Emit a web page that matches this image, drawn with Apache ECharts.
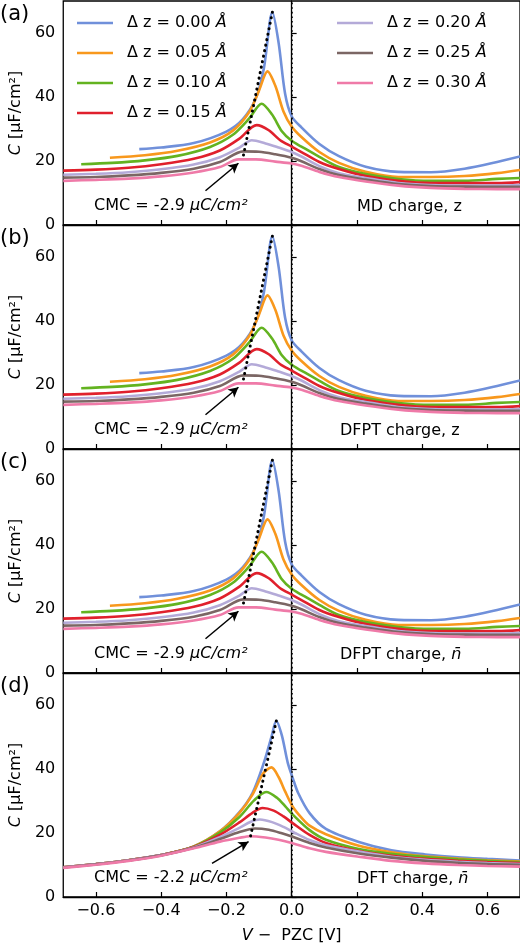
<!DOCTYPE html>
<html>
<head>
<meta charset="utf-8">
<script src="https://cdn.jsdelivr.net/npm/echarts@6/dist/echarts.min.js"></script>
<style>
  html, body { margin: 0; padding: 0; background: #fff; }
  #chart { width: 520px; height: 945px; }
</style>
</head>
<body>
<div id="chart"></div>
<script>
// axis ticks
const vTicks = [-0.6, -0.4, -0.2, 0, 0.2, 0.4, 0.6];
const cTicks = [0, 20, 40, 60];

// legend entries (Δz values)
const dzValues = ['0.00', '0.05', '0.10', '0.15', '0.20', '0.25', '0.30'];

// panels (a)-(c): [V - PZC, C]
const a00 = [[-0.467, 23.7], [-0.4, 24.2], [-0.3, 25.6], [-0.2, 29.2], [-0.15, 33], [-0.11, 39.5], [-0.085, 49], [-0.059, 66.5], [-0.04, 57], [-0.02, 41], [0, 34], [0.03, 30.5], [0.085, 25.3], [0.145, 21.5], [0.227, 18.2], [0.327, 16.6], [0.427, 16.5], [0.53, 17.6], [0.63, 19.7], [0.7, 21.4]];
const a05 = [[-0.557, 21], [-0.45, 21.8], [-0.35, 23.2], [-0.25, 25.8], [-0.18, 29.5], [-0.13, 35.3], [-0.1, 42], [-0.074, 48], [-0.05, 43.5], [-0.025, 35.5], [0, 30.8], [0.03, 27.5], [0.085, 22.8], [0.145, 19.4], [0.227, 16.6], [0.327, 15], [0.427, 15], [0.53, 15.3], [0.63, 16.2], [0.7, 17.2]];
const a10 = [[-0.645, 19], [-0.55, 19.4], [-0.45, 20.2], [-0.35, 21.6], [-0.25, 24.4], [-0.18, 28.2], [-0.13, 33.3], [-0.092, 37.9], [-0.06, 34.5], [-0.03, 29.3], [0, 26.3], [0.03, 24.5], [0.085, 21.3], [0.145, 18.1], [0.227, 15.9], [0.327, 14.4], [0.427, 13.8], [0.53, 13.8], [0.63, 14.4], [0.7, 14.7]];
const a15 = [[-0.7, 17], [-0.6, 17.3], [-0.5, 17.9], [-0.4, 19], [-0.3, 20.7], [-0.22, 23.3], [-0.16, 27], [-0.107, 31.2], [-0.07, 29.6], [-0.035, 26.5], [0, 24.5], [0.03, 22.8], [0.085, 19.7], [0.145, 17.5], [0.227, 15.3], [0.327, 13.8], [0.427, 13.1], [0.53, 13.1], [0.63, 13.1], [0.7, 13.4]];
const a20 = [[-0.7, 15.7], [-0.6, 16], [-0.5, 16.5], [-0.4, 17.4], [-0.3, 18.9], [-0.22, 21.2], [-0.16, 24.2], [-0.122, 26.5], [-0.08, 25.5], [-0.04, 24.2], [0, 22.8], [0.03, 21.4], [0.085, 18.4], [0.145, 16.2], [0.227, 14.7], [0.327, 13.1], [0.427, 12.5], [0.53, 12.3], [0.63, 12.3], [0.7, 12.5]];
const a25 = [[-0.7, 14.8], [-0.6, 15], [-0.5, 15.5], [-0.4, 16.3], [-0.3, 17.6], [-0.22, 19.7], [-0.148, 23], [-0.1, 22.9], [-0.05, 22.1], [0, 21], [0.03, 19.9], [0.085, 17.5], [0.145, 15.6], [0.227, 14.2], [0.327, 12.8], [0.427, 12.2], [0.53, 12], [0.63, 11.9], [0.7, 11.9]];
const a30 = [[-0.7, 13.8], [-0.6, 14.1], [-0.5, 14.5], [-0.4, 15.2], [-0.3, 16.4], [-0.22, 18.1], [-0.163, 20.5], [-0.11, 20.5], [-0.05, 19.8], [0, 19.2], [0.03, 18.5], [0.085, 16.6], [0.145, 15], [0.227, 13.6], [0.327, 12.3], [0.427, 11.6], [0.53, 11.3], [0.63, 11.2], [0.7, 11.2]];

// panel (d)
const d00 = [[-0.7, 9.3], [-0.6, 10.3], [-0.5, 11.5], [-0.4, 13.1], [-0.3, 15.8], [-0.22, 20.5], [-0.16, 26.5], [-0.12, 32.5], [-0.085, 42], [-0.062, 50], [-0.047, 55], [-0.03, 50.5], [-0.012, 42], [0.004, 37], [0.02, 32.5], [0.055, 26.2], [0.105, 21.3], [0.206, 17.2], [0.306, 14.6], [0.41, 13.3], [0.51, 12.4], [0.6, 11.9], [0.7, 11.4]];
const d05 = [[-0.7, 9.3], [-0.6, 10.3], [-0.5, 11.5], [-0.4, 13.1], [-0.3, 15.8], [-0.22, 20.5], [-0.16, 26.3], [-0.12, 32], [-0.088, 38.5], [-0.062, 40.5], [-0.04, 37.5], [-0.02, 33], [0.003, 28.3], [0.03, 24.8], [0.055, 22.3], [0.105, 19.6], [0.206, 16], [0.306, 14], [0.41, 12.7], [0.51, 12], [0.6, 11.5], [0.7, 11.1]];
const d10 = [[-0.7, 9.3], [-0.6, 10.3], [-0.5, 11.5], [-0.4, 13.1], [-0.3, 15.7], [-0.22, 20.1], [-0.16, 25], [-0.115, 30.2], [-0.078, 32.8], [-0.045, 31], [-0.02, 28.4], [0.003, 25.8], [0.055, 20.9], [0.105, 17.9], [0.206, 15], [0.306, 13.5], [0.41, 12.5], [0.51, 11.8], [0.6, 11.3], [0.7, 10.9]];
const d15 = [[-0.7, 9.3], [-0.6, 10.3], [-0.5, 11.5], [-0.4, 13.1], [-0.3, 15.6], [-0.22, 19.4], [-0.16, 23.3], [-0.12, 26.3], [-0.089, 27.8], [-0.055, 27], [-0.025, 25.2], [0.003, 23.1], [0.055, 19.4], [0.105, 16.9], [0.206, 14.4], [0.306, 12.9], [0.41, 11.9], [0.51, 11.3], [0.6, 10.9], [0.7, 10.6]];
const d20 = [[-0.7, 9.3], [-0.6, 10.3], [-0.5, 11.5], [-0.4, 13.1], [-0.3, 15.5], [-0.22, 18.7], [-0.16, 21.6], [-0.125, 23.5], [-0.097, 24.2], [-0.06, 23.4], [-0.025, 21.9], [0.003, 20.4], [0.055, 17.8], [0.105, 16.2], [0.206, 14.2], [0.306, 12.6], [0.41, 11.6], [0.51, 11], [0.6, 10.6], [0.7, 10.3]];
const d25 = [[-0.7, 9.2], [-0.6, 10.2], [-0.5, 11.4], [-0.4, 13], [-0.3, 15.4], [-0.22, 18.1], [-0.16, 20.3], [-0.112, 21.4], [-0.07, 21], [-0.03, 19.9], [0.003, 18.8], [0.055, 16.9], [0.105, 15.5], [0.206, 13.6], [0.306, 12.3], [0.41, 11.3], [0.51, 10.7], [0.6, 10.3], [0.7, 10.1]];
const d30 = [[-0.7, 9.1], [-0.6, 10.1], [-0.5, 11.3], [-0.4, 12.9], [-0.3, 15.2], [-0.22, 17.3], [-0.16, 18.5], [-0.127, 19], [-0.08, 18.6], [-0.04, 17.9], [0.003, 16.8], [0.055, 15.2], [0.105, 14.1], [0.206, 12.6], [0.306, 11.3], [0.41, 10.5], [0.51, 10], [0.6, 9.7], [0.7, 9.5]];

// dotted line through the peaks
const peakA = [[-0.059, 66.5], [-0.148, 21.6]];
const peakD = [[-0.047, 55], [-0.126, 19]];

// arrows (tail -> head)
const arrowA = [[-0.264, 10.7], [-0.163, 19.3]];
const arrowD = [[-0.244, 10.5], [-0.132, 17.3]];

const cmcValues = ['-2.9', '-2.9', '-2.9', '-2.2'];
const chargeMethods = ['MD charge, ', 'DFPT charge, ', 'DFPT charge, ', 'DFT charge, '];
const chargeVars = ['z', 'z', 'n\u0304', 'n\u0304'];
const panelTags = ['(a)', '(b)', '(c)', '(d)'];

const panelCurves = [
  [a00, a05, a10, a15, a20, a25, a30],
  [a00, a05, a10, a15, a20, a25, a30],
  [a00, a05, a10, a15, a20, a25, a30],
  [d00, d05, d10, d15, d20, d25, d30]
];
const panelPeaks = [peakA, peakA, peakA, peakD];
const panelArrows = [arrowA, arrowA, arrowA, arrowD];

const colors = ['#7090da', '#f8981d', '#63b320', '#e0202c', '#b4aad8', '#7b6664', '#ef7aa8'];
const FONT = 'DejaVu Sans';
const panelTop = [1, 225, 449, 673];
const panelH = 224;

const seriesName = i => 'Δ z = ' + dzValues[i] + ' Å';

const grids = [], xAxes = [], yAxes = [], series = [], graphics = [];

panelTop.forEach((top, p) => {
  grids.push({
    left: 61, top: top, width: 462, height: panelH,
    show: true, borderColor: '#000', borderWidth: 1.3, backgroundColor: 'transparent'
  });
  const last = p === panelTop.length - 1;
  xAxes.push({
    gridIndex: p, type: 'value', min: -0.7, max: 0.7,
    axisLine: { show: true, onZero: false, lineStyle: { color: '#000', width: 1.3 } },
    axisTick: { show: true, inside: true, length: 5, customValues: vTicks, lineStyle: { color: '#000', width: 1.2 } },
    axisLabel: {
      show: last, customValues: vTicks, margin: 6, color: '#000', fontSize: 16, fontFamily: FONT,
      formatter: v => (v < 0 ? '\u2212' : '') + Math.abs(v).toFixed(1)
    },
    splitLine: { show: false },
    name: last ? '{i|V} \u2212  PZC [V]' : '',
    nameLocation: 'middle', nameGap: 31,
    nameTextStyle: {
      color: '#000', fontSize: 16, fontFamily: FONT,
      rich: { i: { fontStyle: 'italic', fontSize: 16, fontFamily: FONT, color: '#000' } }
    }
  });
  yAxes.push({
    gridIndex: p, type: 'value', min: 0, max: 70,
    axisLine: { show: true, lineStyle: { color: '#000', width: 1.3 } },
    axisTick: { show: true, inside: true, length: 5, customValues: cTicks, lineStyle: { color: '#000', width: 1.2 } },
    axisLabel: { customValues: cTicks, margin: 8, color: '#000', fontSize: 16, fontFamily: FONT },
    splitLine: { show: false },
    name: '{i|C} [μF/cm²]',
    nameLocation: 'middle', nameGap: 38,
    nameTextStyle: {
      color: '#000', fontSize: 16, fontFamily: FONT,
      rich: { i: { fontStyle: 'italic', fontSize: 16, fontFamily: FONT, color: '#000' } }
    }
  });

  panelCurves[p].forEach((data, i) => {
    series.push({
      type: 'line', name: seriesName(i), xAxisIndex: p, yAxisIndex: p,
      data: data, showSymbol: false, symbol: 'none',
      smooth: 0.3,
      color: colors[i],
      lineStyle: { color: colors[i], width: 2.6 },
      silent: true, z: 2 + i
    });
  });

  const arrow = panelArrows[p];
  series.push({
    type: 'line', xAxisIndex: p, yAxisIndex: p,
    data: panelPeaks[p], showSymbol: false, symbol: 'none',
    lineStyle: { color: '#000', width: 3, type: [0.1, 5.5], cap: 'round' },
    silent: true, z: 20,
    markLine: {
      silent: true, animation: false,
      label: { show: false },
      data: [
        [{ coord: [0, 0], symbol: 'none', lineStyle: { color: '#000', width: 1.6, type: [1.6, 3] } },
         { coord: [0, 70], symbol: 'none' }],
        [{ coord: arrow[0], symbol: 'none', lineStyle: { color: '#000', width: 1.5, type: 'solid' } },
         { coord: arrow[1], symbol: 'arrow', symbolSize: [8, 10] }]
      ]
    }
  });

  graphics.push({
    type: 'text', left: 0, top: top + 3,
    style: { text: panelTags[p], fontSize: 21, fontFamily: FONT, fill: '#000' }
  });
  graphics.push({
    type: 'text', left: 94, top: top + 197,
    style: {
      text: '{n|CMC = ' + cmcValues[p] + ' }{i|μC/cm²}',
      rich: {
        n: { fontSize: 16, fontFamily: FONT, fill: '#000' },
        i: { fontSize: 16, fontFamily: FONT, fontStyle: 'italic', fill: '#000' }
      }
    }
  });
  const varStyle = chargeVars[p] === 'z' ? 'n' : 'i';
  graphics.push({
    type: 'text', left: (p === 1 || p === 2) ? 340 : 357, top: top + 198,
    style: {
      text: '{n|' + chargeMethods[p] + '}{' + varStyle + '|' + chargeVars[p] + '}',
      rich: {
        n: { fontSize: 16, fontFamily: FONT, fill: '#000' },
        i: { fontSize: 16, fontFamily: FONT, fontStyle: 'italic', fill: '#000' }
      }
    }
  });
});

const legendBase = {
  orient: 'vertical', icon: 'rect', itemWidth: 36, itemHeight: 2.6, itemGap: 14,
  selectedMode: false, top: 10,
  formatter: name => '{n|' + name.slice(0, -1) + '}{i|Å}',
  textStyle: {
    color: '#000', fontSize: 16, fontFamily: FONT, lineHeight: 16,
    rich: {
      n: { fontSize: 16, fontFamily: FONT, color: '#000', padding: [0, 0, 0, 9], lineHeight: 16 },
      i: { fontSize: 16, fontFamily: FONT, color: '#000', fontStyle: 'italic', lineHeight: 16 }
    }
  }
};

const chart = echarts.init(document.getElementById('chart'), null, { renderer: 'canvas' });
chart.setOption({
  animation: false,
  backgroundColor: '#fff',
  grid: grids,
  xAxis: xAxes,
  yAxis: yAxes,
  legend: [
    Object.assign({}, legendBase, { left: 72, data: [0, 1, 2, 3].map(seriesName) }),
    Object.assign({}, legendBase, { left: 332, data: [4, 5, 6].map(seriesName) })
  ],
  graphic: graphics,
  series: series
});
</script>
</body>
</html>
